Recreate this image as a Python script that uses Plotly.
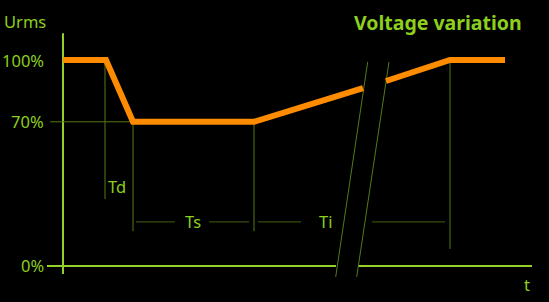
import plotly.graph_objects as go

# ---- data (time in arbitrary units from origin, voltage in % of nominal) ----
t_before = [0, 43, 70, 191, 300]
v_before = [100, 100, 70, 70, 86.4]
t_after = [323, 387, 442]
v_after = [89.8, 100, 100]

y_ticks = [100, 70, 0]
y_tick_labels = ["100%", "70%", "0%"]

# marker times
t_td_start = 42
t_sag_start = 70
t_sag_end = 191
t_recovered = 387

ORANGE = "#FF8C00"
GREEN = "#8CCF1E"
AXIS = "#94D02A"
THIN = "#557A14"
DIM = "#445F12"
FONT = "Noto Sans"

fig = go.Figure()
fig.add_trace(go.Scatter(x=t_before, y=v_before, mode="lines",
                         line=dict(color=ORANGE, width=6), hoverinfo="skip"))
fig.add_trace(go.Scatter(x=t_after, y=v_after, mode="lines",
                         line=dict(color=ORANGE, width=6), hoverinfo="skip"))

shapes = []
def seg(x0, y0, x1, y1, color, width):
    shapes.append(dict(type="line", xref="x", yref="y", x0=x0, y0=y0, x1=x1, y1=y1,
                       line=dict(color=color, width=width), layer="below"))

# axes
seg(0, 113, 0, -3.9, AXIS, 2)
seg(-16, 0, 273, 0, AXIS, 2)
seg(295, 0, 469, 0, AXIS, 2)
# break marks
seg(304.7, 99.1, 272.7, -5.3, THIN, 1)
seg(326, 99.1, 293.7, -5.3, THIN, 1)
# 70% reference
seg(-13, 70, t_sag_start, 70, THIN, 1)
# verticals
seg(t_td_start, 100, t_td_start, 32.5, THIN, 1)
seg(t_sag_start, 70, t_sag_start, 16.9, THIN, 1)
seg(t_sag_end, 70, t_sag_end, 16.9, THIN, 1)
seg(t_recovered, 100, t_recovered, 8.3, THIN, 1)
# Ts / Ti dimension lines
dim_v = 21.4
seg(73, dim_v, 112, dim_v, DIM, 1)
seg(146, dim_v, 186, dim_v, DIM, 1)
seg(195, dim_v, 238, dim_v, DIM, 1)
seg(309, dim_v, 382, dim_v, DIM, 1)

annotations = []
def txt(x, y, s, size=16.5, bold=False, anchor="center", color=GREEN):
    annotations.append(dict(x=x, y=y, xref="x", yref="y", text=f"<b>{s}</b>" if bold else s,
                            showarrow=False, xanchor=anchor, yanchor="middle",
                            font=dict(family=FONT, size=size, color=color)))

for v, lab in zip(y_ticks, y_tick_labels):
    txt(-17, v, lab, anchor="right")
txt(-61, 118.5, "Urms", anchor="left")
txt(54, 38.8, "Td")
txt(130, 21.4, "Ts")
txt(262, 21.4, "Ti")
txt(464, -9, "t")
txt(374.5, 118, "Voltage variation", size=19.5, bold=True)

fig.update_layout(
    width=549, height=302,
    margin=dict(l=0, r=0, t=0, b=0),
    paper_bgcolor="black", plot_bgcolor="black",
    showlegend=False,
    xaxis=dict(range=[-63, 486], visible=False, fixedrange=True),
    yaxis=dict(range=[-17.48, 129.13], visible=False, fixedrange=True),
    shapes=shapes, annotations=annotations,
)
fig.write_html("out.html")
